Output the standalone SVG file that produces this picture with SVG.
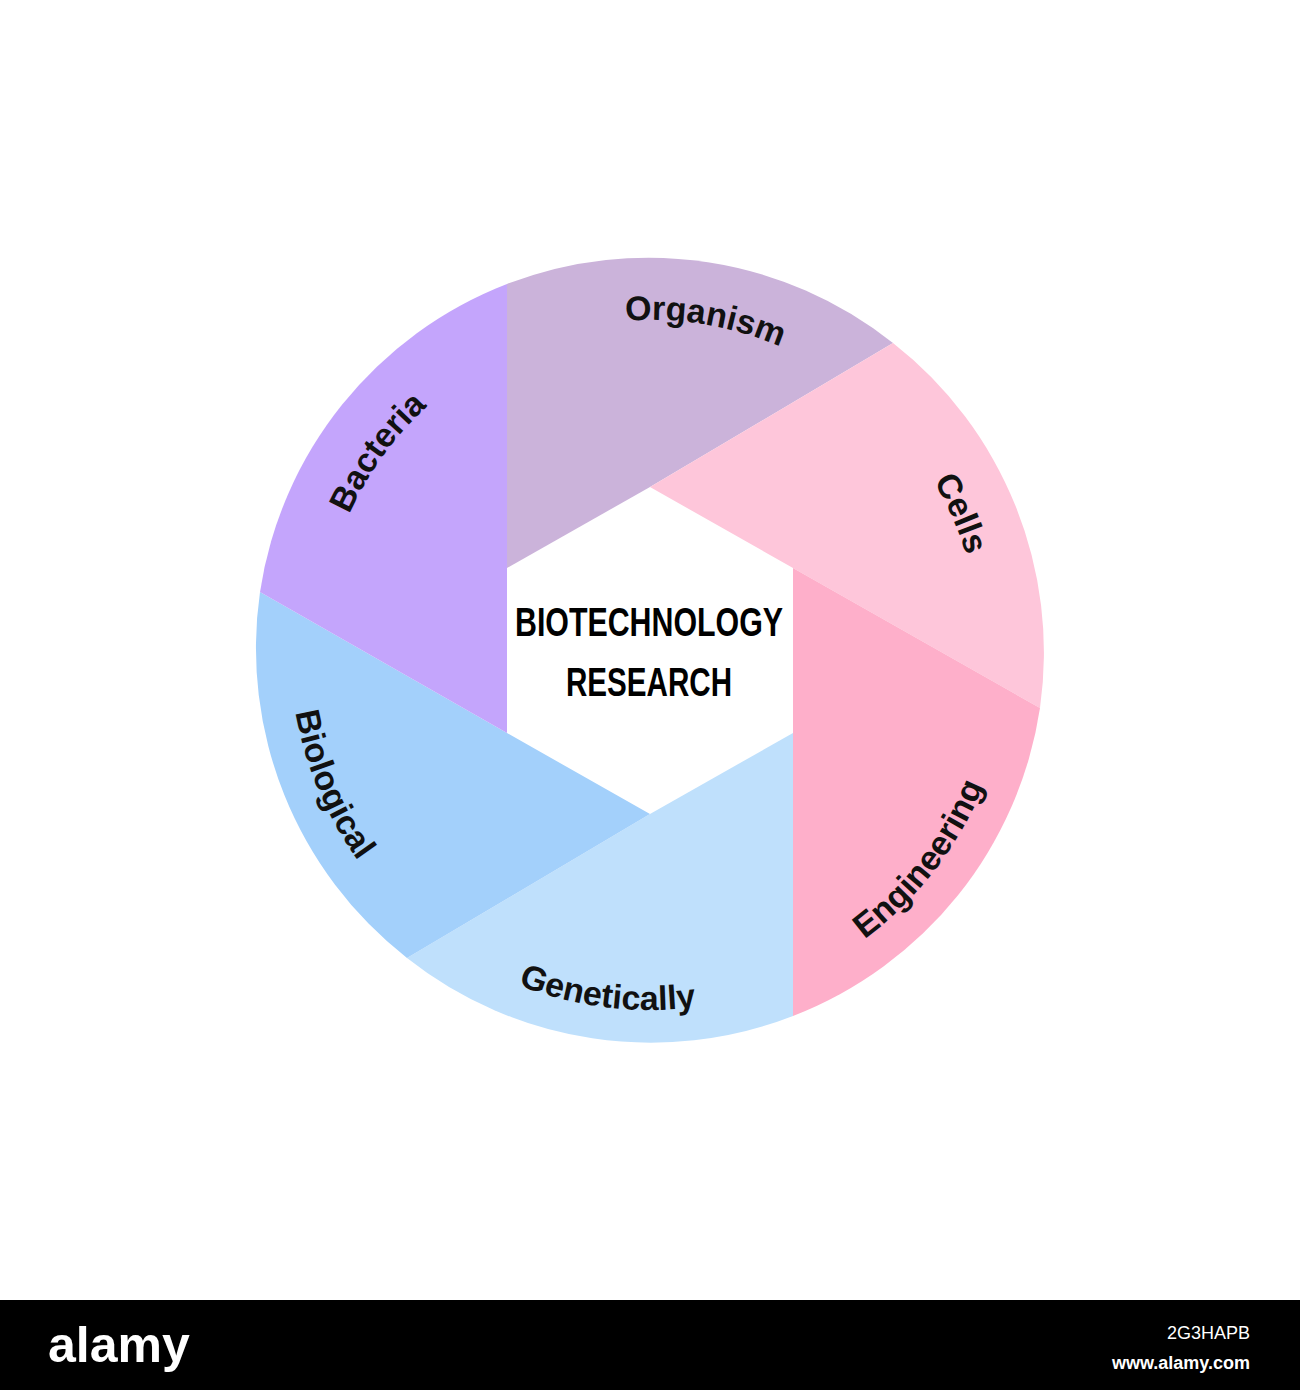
<svg xmlns="http://www.w3.org/2000/svg" xmlns:xlink="http://www.w3.org/1999/xlink" width="1300" height="1390" viewBox="0 0 1300 1390">
<style>
.lbl{font-family:"Liberation Sans",Arial,sans-serif;font-weight:bold;font-size:34px;fill:#111;text-anchor:middle}
.ctr{font-family:"Liberation Sans Narrow","Liberation Sans",Arial,sans-serif;font-weight:bold;font-size:40px;fill:#000;text-anchor:middle}
</style>
<defs>
<path id="cw" d="M320,650 A330,330 0 1 1 980,650 A330,330 0 1 1 320,650"/>
<path id="ccw" d="M290,650 A360,360 0 1 0 1010,650 A360,360 0 1 0 290,650"/>
</defs>
<rect width="1300" height="1390" fill="#fff"/>
<g id="organism"><path d="M507,568 L507,284 A393,393 0 0 1 893,343 L650,487 Z" fill="#cbb3da"/>
<text class="lbl"><textPath href="#cw" startOffset="573">Organism</textPath></text></g>
<g id="cells"><path d="M650,487 L893,343 A393,393 0 0 1 1040,708 L793,568 Z" fill="#fec6da"/>
<text class="lbl"><textPath href="#cw" startOffset="900">Cells</textPath></text></g>
<g id="engineering"><path d="M793,568 L1040,708 A393,393 0 0 1 793,1016 L793,733 Z" fill="#feafca"/>
<text class="lbl"><textPath href="#ccw" startOffset="893">Engineering</textPath></text></g>
<g id="genetically"><path d="M793,733 L793,1016 A393,393 0 0 1 407,958 L650,814 Z" fill="#bfe0fc"/>
<text class="lbl"><textPath href="#ccw" startOffset="521">Genetically</textPath></text></g>
<g id="biological"><path d="M650,814 L407,958 A393,393 0 0 1 260,592 L507,733 Z" fill="#a3d0fb"/>
<text class="lbl"><textPath href="#ccw" startOffset="144">Biological</textPath></text></g>
<g id="bacteria"><path d="M507,733 L260,592 A393,393 0 0 1 507,284 L507,568 Z" fill="#c4a5fc"/>
<text class="lbl"><textPath href="#cw" startOffset="207">Bacteria</textPath></text></g>
<g id="center">
<text class="ctr" x="649" y="636" textLength="268" lengthAdjust="spacingAndGlyphs">BIOTECHNOLOGY</text>
<text class="ctr" x="649" y="696" textLength="166" lengthAdjust="spacingAndGlyphs">RESEARCH</text>
</g>
<g id="watermark">
<rect x="0" y="1300" width="1300" height="90" fill="#000"/>
<text x="48" y="1362" font-family="Liberation Sans,Arial,sans-serif" font-weight="bold" font-size="50" fill="#fff">alamy</text>
<text x="1250" y="1339" font-family="Liberation Sans,Arial,sans-serif" font-size="18" fill="#fff" text-anchor="end">2G3HAPB</text>
<text x="1250" y="1369" font-family="Liberation Sans,Arial,sans-serif" font-weight="bold" font-size="18" fill="#fff" text-anchor="end">www.alamy.com</text>
</g>
</svg>
